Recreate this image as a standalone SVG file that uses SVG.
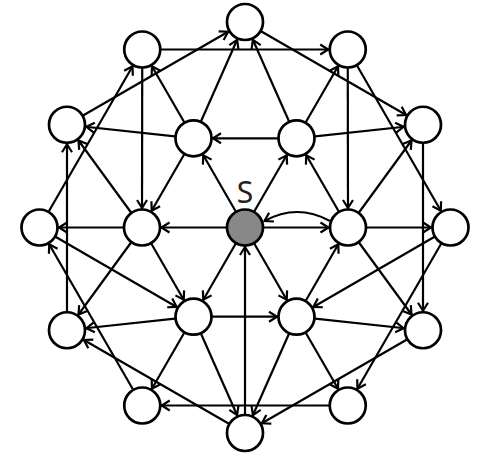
<svg xmlns="http://www.w3.org/2000/svg" width="480" height="457" viewBox="0 0 480 457">
<style>
.e{stroke:#000;stroke-width:2.2;fill:none;marker-end:url(#ah)}
.c{stroke:#000;stroke-width:2.2;fill:none;marker-end:url(#ah0)}
.n{fill:#fff;stroke:#000;stroke-width:2.7}
.s{fill:#888;stroke:#000;stroke-width:2.7}
.lbl{font-family:"Noto Sans","DejaVu Sans",sans-serif;font-size:30px;fill:#222}
</style>
<defs>
<marker id="ah" viewBox="-30 -10 40 20" markerWidth="40" markerHeight="20" refX="19.5" refY="0" orient="auto" markerUnits="userSpaceOnUse"><path d="M-8,-5 L0,0 L-8,5" fill="none" stroke="#000" stroke-width="2.2"/></marker>
<marker id="ah0" viewBox="-30 -10 40 20" markerWidth="40" markerHeight="20" refX="0" refY="0" orient="auto" markerUnits="userSpaceOnUse"><path d="M-8,-5 L0,0 L-8,5" fill="none" stroke="#000" stroke-width="2.2"/></marker>
</defs>
<rect width="480" height="457" fill="#fff"/>
<g id="connectors">
<line class="e" x1="245" y1="227.5" x2="348" y2="227.5"/>
<line class="e" x1="245" y1="227.5" x2="296.5" y2="138.3"/>
<line class="e" x1="245" y1="227.5" x2="193.5" y2="138.3"/>
<line class="e" x1="245" y1="227.5" x2="142" y2="227.5"/>
<line class="e" x1="245" y1="227.5" x2="193.5" y2="316.7"/>
<line class="e" x1="245" y1="227.5" x2="296.5" y2="316.7"/>
<line class="e" x1="245" y1="433" x2="245" y2="227.5"/>
<path class="c" d="M330,221 Q297,203 264.5,221"/>
<line class="e" x1="296.5" y1="138.3" x2="193.5" y2="138.3"/>
<line class="e" x1="193.5" y1="138.3" x2="142" y2="227.5"/>
<line class="e" x1="142" y1="227.5" x2="193.5" y2="316.7"/>
<line class="e" x1="193.5" y1="316.7" x2="296.5" y2="316.7"/>
<line class="e" x1="296.5" y1="316.7" x2="348" y2="227.5"/>
<line class="e" x1="348" y1="227.5" x2="296.5" y2="138.3"/>
<line class="e" x1="193.5" y1="138.3" x2="245" y2="22"/>
<line class="e" x1="193.5" y1="138.3" x2="142.25" y2="49.5"/>
<line class="e" x1="193.5" y1="138.3" x2="67" y2="124.75"/>
<line class="e" x1="296.5" y1="138.3" x2="245" y2="22"/>
<line class="e" x1="296.5" y1="138.3" x2="347.75" y2="49.5"/>
<line class="e" x1="296.5" y1="138.3" x2="423" y2="124.75"/>
<line class="e" x1="348" y1="227.5" x2="423" y2="124.75"/>
<line class="e" x1="348" y1="227.5" x2="450.5" y2="227.5"/>
<line class="e" x1="348" y1="227.5" x2="423" y2="330.25"/>
<line class="e" x1="296.5" y1="316.7" x2="423" y2="330.25"/>
<line class="e" x1="296.5" y1="316.7" x2="347.75" y2="405.5"/>
<line class="e" x1="296.5" y1="316.7" x2="245" y2="433"/>
<line class="e" x1="193.5" y1="316.7" x2="245" y2="433"/>
<line class="e" x1="193.5" y1="316.7" x2="142.25" y2="405.5"/>
<line class="e" x1="193.5" y1="316.7" x2="67" y2="330.25"/>
<line class="e" x1="142" y1="227.5" x2="67" y2="330.25"/>
<line class="e" x1="142" y1="227.5" x2="39.5" y2="227.5"/>
<line class="e" x1="142" y1="227.5" x2="67" y2="124.75"/>
<line class="e" x1="142.25" y1="49.5" x2="142" y2="227.5"/>
<line class="e" x1="347.75" y1="49.5" x2="348" y2="227.5"/>
<line class="e" x1="39.5" y1="227.5" x2="193.5" y2="316.7"/>
<line class="e" x1="450.5" y1="227.5" x2="296.5" y2="316.7"/>
<line class="e" x1="142.25" y1="49.5" x2="347.75" y2="49.5"/>
<line class="e" x1="67" y1="124.75" x2="245" y2="22"/>
<line class="e" x1="245" y1="22" x2="423" y2="124.75"/>
<line class="e" x1="39.5" y1="227.5" x2="142.25" y2="49.5"/>
<line class="e" x1="347.75" y1="49.5" x2="450.5" y2="227.5"/>
<line class="e" x1="423" y1="124.75" x2="423" y2="330.25"/>
<line class="e" x1="67" y1="330.25" x2="67" y2="124.75"/>
<line class="e" x1="142.25" y1="405.5" x2="39.5" y2="227.5"/>
<line class="e" x1="245" y1="433" x2="67" y2="330.25"/>
<line class="e" x1="423" y1="330.25" x2="245" y2="433"/>
<line class="e" x1="347.75" y1="405.5" x2="142.25" y2="405.5"/>
<line class="e" x1="450.5" y1="227.5" x2="347.75" y2="405.5"/>
</g>
<g id="S"><circle class="s" cx="245" cy="227.5" r="18"/><text class="lbl" x="245" y="203" text-anchor="middle">S</text></g>
<g id="B0"><circle class="n" cx="348" cy="227.5" r="18"/></g>
<g id="B1"><circle class="n" cx="296.5" cy="138.3" r="18"/></g>
<g id="B2"><circle class="n" cx="193.5" cy="138.3" r="18"/></g>
<g id="B3"><circle class="n" cx="142" cy="227.5" r="18"/></g>
<g id="B4"><circle class="n" cx="193.5" cy="316.7" r="18"/></g>
<g id="B5"><circle class="n" cx="296.5" cy="316.7" r="18"/></g>
<g id="A0"><circle class="n" cx="450.5" cy="227.5" r="18"/></g>
<g id="A1"><circle class="n" cx="423" cy="124.75" r="18"/></g>
<g id="A2"><circle class="n" cx="347.75" cy="49.5" r="18"/></g>
<g id="A3"><circle class="n" cx="245" cy="22" r="18"/></g>
<g id="A4"><circle class="n" cx="142.25" cy="49.5" r="18"/></g>
<g id="A5"><circle class="n" cx="67" cy="124.75" r="18"/></g>
<g id="A6"><circle class="n" cx="39.5" cy="227.5" r="18"/></g>
<g id="A7"><circle class="n" cx="67" cy="330.25" r="18"/></g>
<g id="A8"><circle class="n" cx="142.25" cy="405.5" r="18"/></g>
<g id="A9"><circle class="n" cx="245" cy="433" r="18"/></g>
<g id="A10"><circle class="n" cx="347.75" cy="405.5" r="18"/></g>
<g id="A11"><circle class="n" cx="423" cy="330.25" r="18"/></g>
</svg>
